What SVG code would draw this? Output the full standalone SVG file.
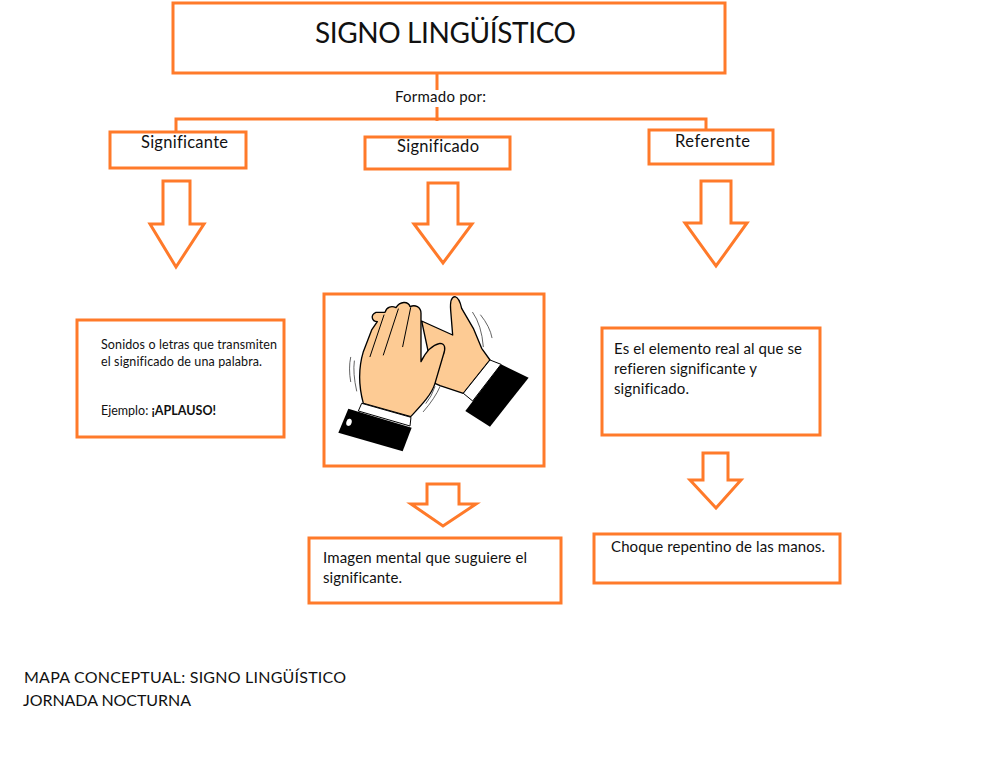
<svg xmlns="http://www.w3.org/2000/svg" width="982" height="768" viewBox="0 0 982 768">
<style>
.b{fill:#fff;stroke:#ff7a2a;stroke-width:3}
.a{fill:#fff;stroke:#ff7a2a;stroke-width:3;stroke-linejoin:miter}
.c{fill:none;stroke:#ff7a2a;stroke-width:3}
text{font-family:"Lato","Open Sans","Liberation Sans",sans-serif;fill:#111;font-variant-ligatures:none}
.s{font-size:12.5px}
.m{font-size:15px}
.l{font-size:16.5px}
.k{fill:#000;stroke:none}
.w{fill:#fff;stroke:#000;stroke-width:3}
.h{fill:#fdcb94;stroke:#000;stroke-width:4;stroke-linejoin:round}
.n{fill:none;stroke:#000;stroke-width:3;stroke-linecap:round}
.g{fill:none;stroke:#444;stroke-width:2.5;stroke-linecap:round}
</style>
<rect width="982" height="768" fill="#fff"/>
<g id="connectors">
<path class="c" d="M437 73V90M437 107V121M176 132V119H706V130"/>
</g>
<g id="title"><rect class="b" x="173" y="3" width="552" height="70"/><text x="315" y="43" font-size="28" textLength="261">SIGNO LINGÜÍSTICO</text></g>
<g id="formado"><text x="395" y="102" font-size="15" textLength="91">Formado por:</text></g>
<g id="significante"><rect class="b" x="110" y="132" width="136" height="36"/><text class="l" x="141" y="148" textLength="87">Significante</text></g>
<g id="significado"><rect class="b" x="365" y="137" width="145" height="32"/><text class="l" x="397" y="152" textLength="82">Significado</text></g>
<g id="referente"><rect class="b" x="649" y="130" width="124" height="34"/><text class="l" x="675" y="147" textLength="75">Referente</text></g>
<g id="arrow1"><path class="a" d="M163 181H190V224H204L176 267L150 224H163Z"/></g>
<g id="arrow2"><path class="a" d="M428 183H458V224H472L443 263L414 224H428Z"/></g>
<g id="arrow3"><path class="a" d="M701 181H731V223H747L716 266L685 223H701Z"/></g>
<g id="definicion"><rect class="b" x="77" y="320" width="207" height="117"/>
<text class="s" x="101" y="349" textLength="176">Sonidos o letras que transmiten</text>
<text class="s" x="101" y="366" textLength="161">el significado de una palabra.</text>
<text class="s" x="101" y="415" textLength="115">Ejemplo: <tspan font-weight="700">¡APLAUSO!</tspan></text></g>
<g id="imagen"><rect class="b" x="324" y="294" width="220" height="172"/>
<g transform="translate(320 285) scale(.3333)">
<path class="h" d="M405 35C395 36 390 50 392 75L398 150L305 108L345 295L360 302L430 325L510 225L485 190L460 130L425 70Q418 38 405 35Z"/>
<path class="w" d="M510 225L543 238L458 348L430 325Z"/>
<path class="k" d="M543 238L626 278L510 425L436 378Z"/>
<path class="h" d="M130 355C115 300 115 250 130 200L155 135L172 110C155 110 150 90 168 82L195 82C200 65 215 62 228 68C240 48 265 48 270 65C285 58 303 65 303 85L303 230C315 205 335 180 360 175C375 175 378 190 370 210L345 295C335 330 300 365 272 395Z"/>
<path class="n" d="M150 215L192 90M190 210L235 72M248 185L272 68"/>
<path class="w" d="M125 355L273 397L270 423L115 378Z"/>
<path class="k" d="M85 371L275 428L248 499L55 443Z"/>
<ellipse cx="87" cy="412" rx="8" ry="11" fill="#fff" transform="rotate(15 87 412)"/>
<path class="g" d="M92 217Q85 250 92 290M103 228Q98 265 110 318M458 82Q485 120 490 185M482 90Q510 125 516 158M360 305Q345 340 310 380M345 305Q335 335 318 355"/>
</g></g>
<g id="referencia"><rect class="b" x="602" y="328" width="218" height="107"/>
<text class="m" x="614" y="354" textLength="188">Es el elemento real al que se</text>
<text class="m" x="614" y="374" textLength="143">refieren significante y</text>
<text class="m" x="614" y="394" textLength="75">significado.</text></g>
<g id="arrow4"><path class="a" d="M427 484H459V504H476L443 526L411 504H427Z"/></g>
<g id="arrow5"><path class="a" d="M703 453H728V480H741L716 508L690 480H703Z"/></g>
<g id="mental"><rect class="b" x="309" y="538" width="252" height="65"/>
<text class="m" x="323" y="563" textLength="204">Imagen mental que suguiere el</text>
<text class="m" x="323" y="583" textLength="79">significante.</text></g>
<g id="choque"><rect class="b" x="594" y="534" width="246" height="49"/>
<text class="m" x="611" y="552" textLength="214">Choque repentino de las manos.</text></g>
<g id="pie"><text x="24" y="683" font-size="16" textLength="322">MAPA CONCEPTUAL: SIGNO LINGÜÍSTICO</text>
<text x="23" y="706" font-size="16" textLength="168">JORNADA NOCTURNA</text></g>
</svg>
